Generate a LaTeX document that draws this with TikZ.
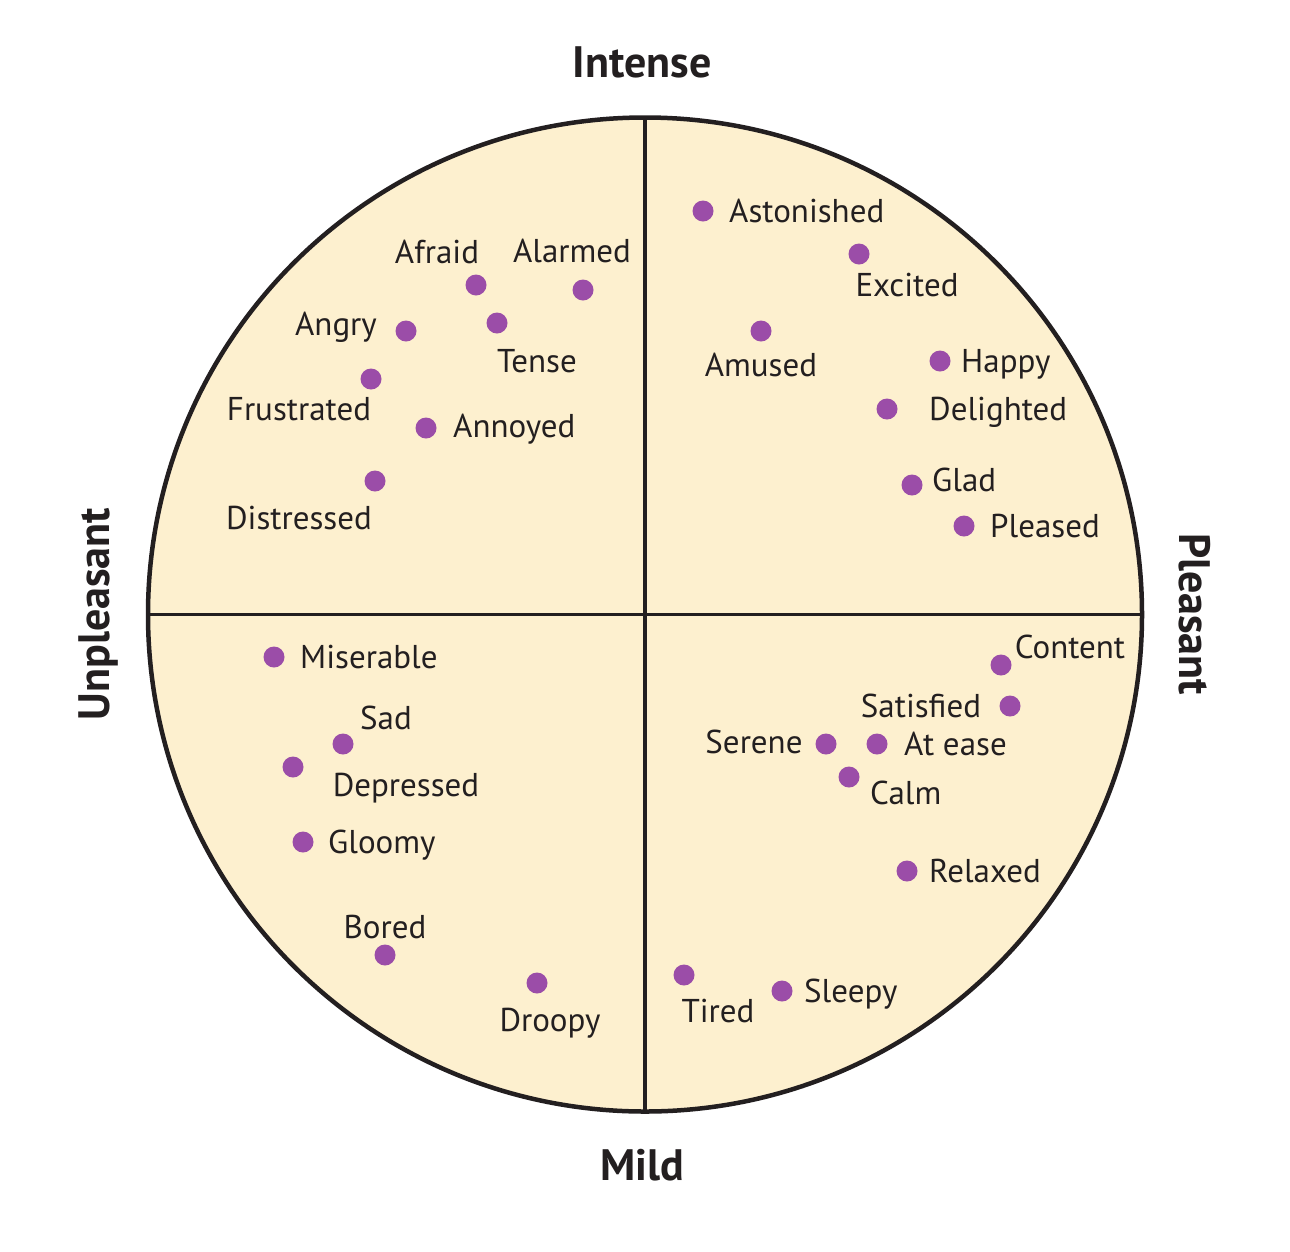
\documentclass[tikz,border=0pt]{standalone}
\usepackage{fontspec}
\setmainfont{PT Sans}
\definecolor{fillc}{HTML}{FDF0CF}
\definecolor{dotc}{HTML}{9B4DA8}
\definecolor{inkc}{HTML}{231F20}
\begin{document}
\begin{tikzpicture}[x=1pt,y=-1pt,
  dotp/.style={circle,fill=dotc,inner sep=0pt,minimum size=21pt},
  lbl/.style={font=\fontsize{33}{36}\selectfont,text=inkc,inner sep=0pt,yshift=-4pt},
  lw/.style={lbl,anchor=mid west},
  lc/.style={lbl,anchor=mid},
  axis/.style={font=\bfseries\fontsize{44}{48}\selectfont,text=inkc,inner sep=0pt,anchor=mid}]
\useasboundingbox (0,0) rectangle (1290,1251);
\fill[white] (0,0) rectangle (1290,1251);
\coordinate (O) at (645,614.5);
\draw[line width=4.5pt,draw=inkc,fill=fillc] (O) circle (497);
\coordinate (T) at (645,117.5);
\coordinate (B) at (645,1111.5);
\coordinate (L) at (148,614.5);
\coordinate (R) at (1142,614.5);
\draw[line width=3.5pt,draw=inkc] (T) -- (B);
\draw[line width=3.5pt,draw=inkc] (L) -- (R);
% axis labels
\node[axis] (intense) at (642,75) {Intense};
\node[axis] (mild) at (642,1178) {Mild};
\node[axis,rotate=90] (unpl) at (107,614) {Unpleasant};
\node[axis,rotate=-90] (pleas) at (1182,614) {Pleasant};
% upper right
\node[dotp] (d1) at (703,211) {}; \node[lw] (t1) at (729,216) {Astonished};
\node[dotp] (d2) at (859,254) {}; \node[lc] (t2) at (907,290) {Excited};
\node[dotp] (d3) at (761,331) {}; \node[lc] (t3) at (761,370) {Amused};
\node[dotp] (d4) at (940,361) {}; \node[lw] (t4) at (961,366) {Happy};
\node[dotp] (d5) at (887,409) {}; \node[lw] (t5) at (929,414) {Delighted};
\node[dotp] (d6) at (912,485) {}; \node[lw] (t6) at (932,485) {Glad};
\node[dotp] (d7) at (964,526) {}; \node[lw] (t7) at (990,531) {Pleased};
% upper left
\node[dotp] (d8) at (476,285) {}; \node[lc] (t8) at (437,257) {Afraid};
\node[dotp] (d9) at (583,290) {}; \node[lc] (t9) at (572,256) {Alarmed};
\node[dotp] (d10) at (497,323) {}; \node[lc] (t10) at (537,366) {Tense};
\node[dotp] (d11) at (406,331) {}; \node[lc] (t11) at (336,329) {Angry};
\node[dotp] (d12) at (371,379) {}; \node[lc] (t12) at (299,414) {Frustrated};
\node[dotp] (d13) at (426,428) {}; \node[lw] (t13) at (453,431) {Annoyed};
\node[dotp] (d14) at (375,481) {}; \node[lc] (t14) at (299,523) {Distressed};
% lower left
\node[dotp] (d15) at (274,657) {}; \node[lw] (t15) at (300,662) {Miserable};
\node[dotp] (d16) at (343,744) {}; \node[lc] (t16) at (386,723) {Sad};
\node[dotp] (d17) at (293,767) {}; \node[lc] (t17) at (406,790) {Depressed};
\node[dotp] (d18) at (303,842) {}; \node[lw] (t18) at (328,847) {Gloomy};
\node[dotp] (d19) at (385,955) {}; \node[lc] (t19) at (385,932) {Bored};
\node[dotp] (d20) at (537,983) {}; \node[lc] (t20) at (550,1025) {Droopy};
% lower right
\node[dotp] (d21) at (684,975) {}; \node[lc] (t21) at (718,1016) {Tired};
\node[dotp] (d22) at (782,991) {}; \node[lw] (t22) at (804,996) {Sleepy};
\node[dotp] (d23) at (1001,665) {}; \node[lc] (t23) at (1070,652) {Content};
\node[dotp] (d24) at (1010,706) {}; \node[lc] (t24) at (921,711) {Satisfied};
\node[dotp] (d25) at (826,744) {}; \node[lc] (t25) at (754,747) {Serene};
\node[dotp] (d26) at (877,744) {}; \node[lw] (t26) at (904,749) {At ease};
\node[dotp] (d27) at (849,777) {}; \node[lw] (t27) at (870,798) {Calm};
\node[dotp] (d28) at (907,871) {}; \node[lw] (t28) at (929,876) {Relaxed};
\end{tikzpicture}
\end{document}
